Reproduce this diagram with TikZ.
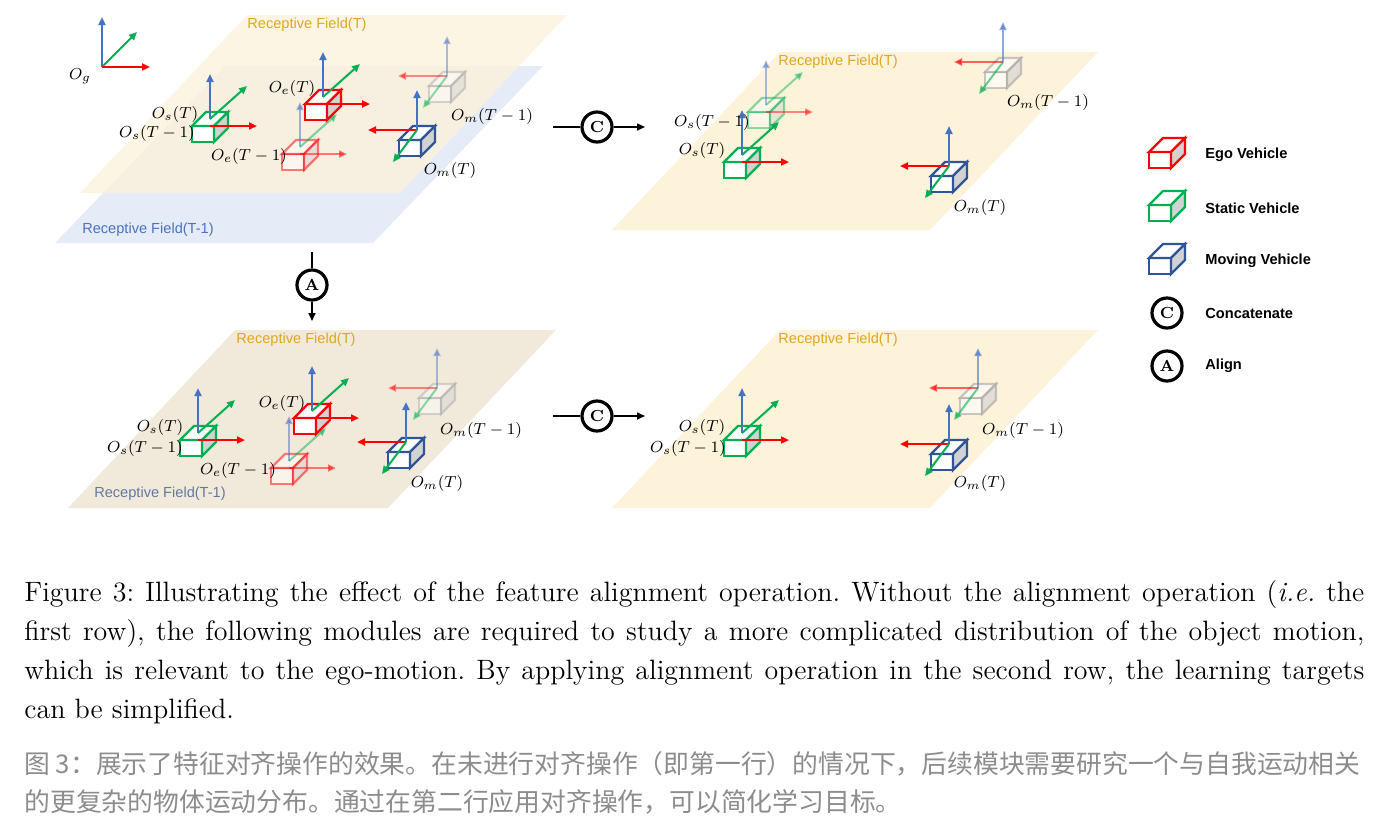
\documentclass[tikz,border=0pt]{standalone}
\usepackage{fontspec}
\usetikzlibrary{arrows.meta}
\newfontfamily\lsans{Liberation Sans}
\newfontfamily\cjk{Noto Sans CJK SC}
\definecolor{cRed}{HTML}{FF0000}
\definecolor{cGreen}{HTML}{00B050}
\definecolor{cBlue}{HTML}{2F5597}
\definecolor{aBlue}{HTML}{4472C4}
\definecolor{cGray}{HTML}{A6A6A6}
\definecolor{pYel}{HTML}{FDF2DA}
\definecolor{pBlue}{HTML}{E6ECF7}
\definecolor{pTan}{HTML}{F1EADA}
\definecolor{tOr}{HTML}{E0A820}
\definecolor{tBl}{HTML}{4A72C0}
\definecolor{capg}{HTML}{8C8C8C}
\tikzset{
 ax/.style={line width=1pt,-{Triangle[length=4pt,width=3.5pt]}},
 boxl/.style={line width=1.2pt,line join=miter},
 lab/.style={font=\fontsize{8.5}{10}\selectfont,inner sep=0pt},
 plab/.style={font=\lsans\fontsize{7.3}{8}\selectfont,inner sep=0pt},
 leg/.style={font=\lsans\bfseries\fontsize{7.3}{9}\selectfont,anchor=west,inner sep=0pt},
 opc/.style={circle,draw=black,line width=1.6pt,minimum size=15pt,inner sep=0pt,font=\bfseries\fontsize{8}{9}\selectfont,fill=white},
 flow/.style={line width=0.8pt,-{Triangle[length=4pt,width=3.5pt]}}
}
\newcommand\cub[4]{%
 \begin{scope}[shift={(#1,#2)},opacity=#4]
  \filldraw[boxl,draw=#3,fill=white] (0,0) rectangle (22,-16);
  \filldraw[boxl,draw=#3,fill=white] (0,-16)--(14,-30)--(36,-30)--(22,-16)--cycle;
  \filldraw[boxl,draw=#3,fill=gray!35] (22,0)--(36,-14)--(36,-30)--(22,-16)--cycle;
 \end{scope}}
\newcommand\vehR[6]{% x y boxcolor opacity red green
 \cub{#1}{#2}{#3}{#4}
 \begin{scope}[shift={(#1,#2)},opacity=#4]
  \draw[ax,aBlue] (18,-23)--(18,-68);
  \draw[ax,#6] (18,-23)--(55,-56);
  \draw[ax,#5] (18,-16)--(65,-16);
 \end{scope}}
\newcommand\vehM[4]{% x y boxcolor opacity
 \cub{#1}{#2}{#3}{#4}
 \begin{scope}[shift={(#1,#2)},opacity=#4]
  \draw[ax,aBlue] (18,-26)--(18,-66);
  \draw[ax,cRed] (18,-26)--(-31,-26);
  \draw[ax,cGreen] (18,-26)--(-6,6);
 \end{scope}}
\begin{document}
\begin{tikzpicture}[x=0.5pt,y=-0.5pt]
\useasboundingbox (0,0) rectangle (1392,821);
% ---------- panel 1
\fill[pBlue] (225,66)--(543,66)--(373,243)--(55,243)--cycle;
\fill[pYel,opacity=0.75] (247,15)--(567,15)--(400,193)--(80,193)--cycle;
\node[plab,text=tOr] (rf1) at (307,25) {Receptive Field(T)};
\node[plab,text=tBl] (rf1b) at (148,230) {Receptive Field(T-1)};
\draw[ax,aBlue] (102,67)--(102,17);
\draw[ax,cGreen] (102,67)--(137,32);
\draw[ax,cRed] (102,67)--(150,67);
\node[lab] (og) at (80,76) {$O_g$};
\vehM{429}{102}{cGray}{0.45}
\vehR{282}{170}{cRed}{0.5}{cRed}{cGreen}
\vehR{192}{142}{cGreen}{1}{cRed}{cGreen}
\vehR{305}{120}{cRed}{1}{cRed}{cGreen}
\vehM{399}{156}{cBlue}{1}
\node[lab] (l1) at (175,114) {$O_s(T)$};
\node[lab] (l2) at (157,133) {$O_s(T-1)$};
\node[lab] (l3) at (292,88) {$O_e(T)$};
\node[lab] (l4) at (249,156) {$O_e(T-1)$};
\node[lab] (l5) at (492,116) {$O_m(T-1)$};
\node[lab] (l6) at (450,170) {$O_m(T)$};
% ---------- panel 2
\fill[pYel] (780,52)--(1098,52)--(930,230)--(612,230)--cycle;
\node[plab,text=tOr] (rf2) at (838,62) {Receptive Field(T)};
\vehR{748}{128}{cGreen}{0.45}{cRed}{cGreen}
\vehR{724}{178}{cGreen}{1}{cRed}{cGreen}
\vehM{985}{88}{cGray}{0.6}
\vehM{931}{192}{cBlue}{1}
\node[lab] (m1) at (712,122) {$O_s(T-1)$};
\node[lab] (m2) at (702,150) {$O_s(T)$};
\node[lab] (m3) at (1048,102) {$O_m(T-1)$};
\node[lab] (m4) at (980,207) {$O_m(T)$};
% ---------- panel 3
\fill[pTan] (235,330)--(556,330)--(388,508)--(68,508)--cycle;
\node[plab,text=tOr] (rf3) at (296,340) {Receptive Field(T)};
\node[plab,text=tBl!55!gray] (rf3b) at (160,494) {Receptive Field(T-1)};
\vehM{419}{414}{cGray}{0.45}
\vehR{271}{484}{cRed}{0.5}{cRed}{cGreen}
\vehR{180}{456}{cGreen}{1}{cRed}{cGreen}
\vehR{294}{434}{cRed}{1}{cRed}{cGreen}
\vehM{388}{468}{cBlue}{1}
\node[lab] (n1) at (160,427) {$O_s(T)$};
\node[lab] (n2) at (145,448) {$O_s(T-1)$};
\node[lab] (n3) at (282,403) {$O_e(T)$};
\node[lab] (n4) at (238,470) {$O_e(T-1)$};
\node[lab] (n5) at (481,430) {$O_m(T-1)$};
\node[lab] (n6) at (437,483) {$O_m(T)$};
% ---------- panel 4
\fill[pYel] (780,330)--(1098,330)--(930,508)--(612,508)--cycle;
\node[plab,text=tOr] (rf4) at (838,340) {Receptive Field(T)};
\vehR{724}{456}{cGreen}{1}{cRed}{cGreen}
\vehM{960}{414}{cGray}{0.6}
\vehM{931}{470}{cBlue}{1}
\node[lab] (q1) at (702,427) {$O_s(T)$};
\node[lab] (q2) at (688,448) {$O_s(T-1)$};
\node[lab] (q3) at (1023,430) {$O_m(T-1)$};
\node[lab] (q4) at (980,483) {$O_m(T)$};
% ---------- operators
\coordinate (c1a) at (553,127); \coordinate (c1b) at (645,127);
\node[opc] (c1) at (597,127) {C};
\draw[flow,-] (c1a)--(c1); \draw[flow] (c1)--(c1b);
\coordinate (c2a) at (553,416); \coordinate (c2b) at (645,416);
\node[opc] (c2) at (597,416) {C};
\draw[flow,-] (c2a)--(c2); \draw[flow] (c2)--(c2b);
\coordinate (a1a) at (312,252); \coordinate (a1b) at (312,321);
\node[opc] (a1) at (312,285) {A};
\draw[flow,-] (a1a)--(a1); \draw[flow] (a1)--(a1b);
% ---------- legend
\cub{1149}{168}{cRed}{1}
\cub{1149}{221}{cGreen}{1}
\cub{1149}{274}{cBlue}{1}
\node[opc] (lc) at (1167,313) {C};
\node[opc] (la) at (1167,366) {A};
\node[leg] (t1) at (1205,155) {Ego Vehicle};
\node[leg] (t2) at (1205,208) {Static Vehicle};
\node[leg] (t3) at (1205,261) {Moving Vehicle};
\node[leg] (t4) at (1205,313) {Concatenate};
\node[leg] (t5) at (1205,366) {Align};
% ---------- caption
\node[anchor=north west,inner sep=0pt,text width=670pt,align=justify,
 font=\frenchspacing\fontsize{14}{19.5}\selectfont] (cap) at (24,580)
{Figure 3: Illustrating the effect of the feature alignment operation. Without the alignment operation (\textit{i.e.} the\linebreak
first row), the following modules are required to study a more complicated distribution of the object motion,\linebreak
which is relevant to the ego-motion. By applying alignment operation in the second row, the learning targets\linebreak
can be simplified.};
\node[anchor=base west,inner sep=0pt,text=capg,font=\cjk\fontsize{12.9}{16}\selectfont] (cz1) at (24,773)
{图 3：展示了特征对齐操作的效果。在未进行对齐操作（即第一行）的情况下，后续模块需要研究一个与自我运动相关};
\node[anchor=base west,inner sep=0pt,text=capg,font=\cjk\fontsize{12.9}{16}\selectfont] (cz2) at (24,811)
{的更复杂的物体运动分布。通过在第二行应用对齐操作，可以简化学习目标。};
\end{tikzpicture}
\end{document}
